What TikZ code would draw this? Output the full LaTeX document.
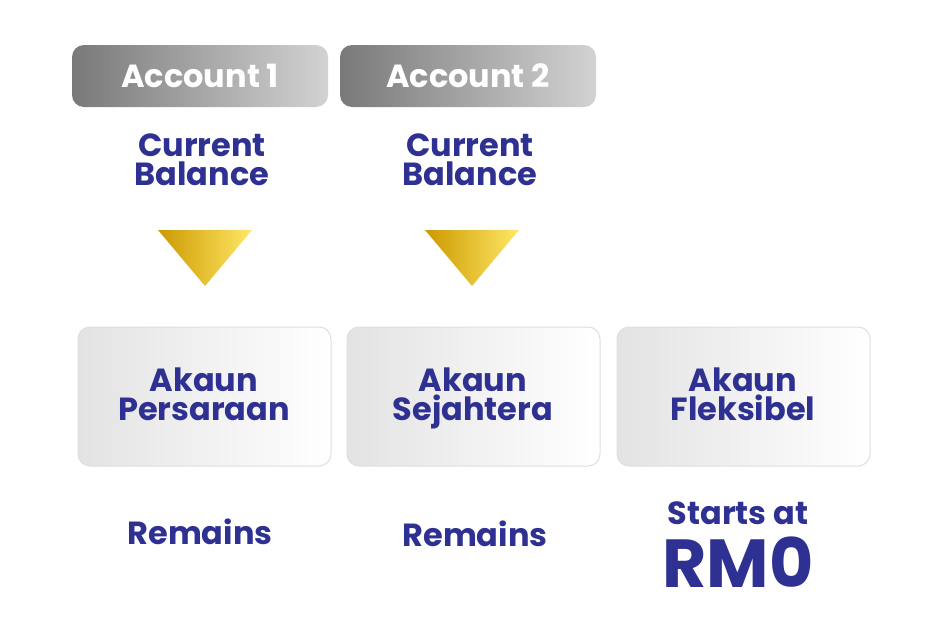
\documentclass[tikz,border=0pt]{standalone}
\usepackage{fontspec}
\setmainfont{Poppins}
\definecolor{navy}{HTML}{2E3192}
\tikzset{
  tab/.style={rounded corners=12pt, left color=gray!95!black, right color=gray!35, draw=none},
  tabtext/.style={text=white, font=\bfseries\fontsize{32}{32}\selectfont},
  lbl/.style={text=navy, font=\bfseries\fontsize{32}{29}\selectfont, align=center},
  card/.style={rounded corners=12pt, draw=gray!25, line width=1pt, left color=gray!22, right color=white},
  tri/.style={left color=yellow!50!orange!80!black, right color=yellow!70!orange!60, draw=none}
}
\begin{document}
\begin{tikzpicture}[x=1pt,y=-1pt]
\useasboundingbox (0,0) rectangle (929,630);
\fill[white] (0,0) rectangle (929,630);
\path[tab] (72,45) rectangle (328,107);
\path[tab] (340,45) rectangle (596,107);
\node[tabtext] (a1) at (200,76) {Account 1};
\node[tabtext] (a2) at (468,76) {Account 2};
\node[lbl] (cb1) at (202,160) {Current\\Balance};
\node[lbl] (cb2) at (470,160) {Current\\Balance};
\path[tri] (158,230) -- (252,230) -- (205,286) -- cycle;
\path[tri] (425,230) -- (519,230) -- (472,286) -- cycle;
\path[card] (78,327) rectangle (331,466);
\path[card] (347,327) rectangle (600,466);
\path[card] (617,327) rectangle (870,466);
\node[lbl] (k1) at (204,394) {Akaun\\Persaraan};
\node[lbl] (k2) at (473,398) {Akaun\\Sejahtera};
\node[lbl] (k3) at (743,394) {Akaun\\Fleksibel};
\node[lbl] (r1) at (200,532) {Remains};
\node[lbl] (r2) at (475,534) {Remains};
\node[lbl] (s) at (738,513) {Starts at};
\node[text=navy, font=\bfseries\fontsize{68}{68}\selectfont] (rm) at (738,562) {RM0};
\end{tikzpicture}
\end{document}
